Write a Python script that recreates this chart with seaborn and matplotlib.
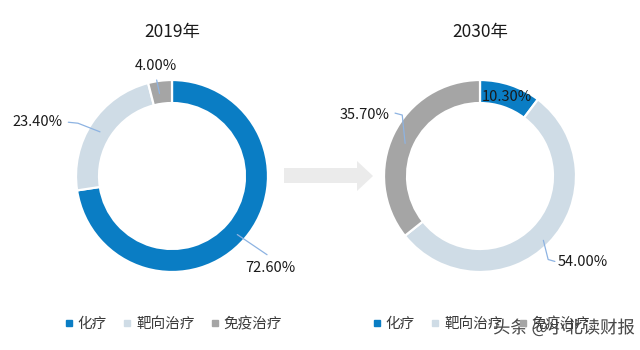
import matplotlib
matplotlib.use("Agg")
import matplotlib.pyplot as plt
from matplotlib.lines import Line2D
from matplotlib.patches import Polygon
import matplotlib.patheffects as pe
import seaborn as sns

# ---- data ----
categories = ["化疗", "靶向治疗", "免疫治疗"]
years = ["2019年", "2030年"]
share_2019 = [72.6, 23.4, 4.0]
share_2030 = [10.3, 54.0, 35.7]
watermark = "头条 @小北读财报"

sns.set_theme(style="white")
plt.rcParams["font.family"] = ["Noto Sans CJK SC", "DejaVu Sans"]

colors = ["#0A7DC4", "#CFDCE6", "#A5A5A5"]
line_c = "#8DB3E2"
txt_c = "#1A1A1A"

W, H = 640, 350
fig = plt.figure(figsize=(6.4, 3.5), dpi=100)
fig.patch.set_facecolor("white")

R = 96  # outer radius in px


def donut_ax(cx, cy):
    return fig.add_axes([(cx - R) / W, 1 - (cy + R) / H, 2 * R / W, 2 * R / H])


# label layout (in units of outer radius, relative to centre)
label_cfg = {
    0: [  # 2019
        dict(text=(1.02, -0.96), line=[(0.68, -0.61), (0.99, -0.82)]),
        dict(text=(-1.40, 0.56), line=[(-1.08, 0.56), (-0.98, 0.55), (-0.75, 0.46)]),
        dict(text=(-0.17, 1.15), line=[(-0.16, 1.0), (-0.13, 0.86)]),
    ],
    1: [  # 2030
        dict(text=(0.28, 0.82), line=None),
        dict(text=(1.07, -0.90), line=[(0.66, -0.67), (0.71, -0.87), (0.78, -0.89)]),
        dict(text=(-1.20, 0.635), line=[(-0.885, 0.655), (-0.81, 0.635), (-0.78, 0.34)]),
    ],
}

centers = [(172, 176), (480, 176)]
for i, (vals, yr) in enumerate(zip([share_2019, share_2030], years)):
    cx, cy = centers[i]
    ax = donut_ax(cx, cy)
    ax.pie(vals, colors=colors, startangle=90, counterclock=False, radius=1.0,
           wedgeprops=dict(width=0.24, edgecolor="white", linewidth=1.6))
    ax.set_xlim(-1, 1)
    ax.set_ylim(-1, 1)
    ax.set_aspect("equal")
    ax.axis("off")
    for j, v in enumerate(vals):
        cfg = label_cfg[i][j]
        if cfg["line"]:
            xs = [p[0] for p in cfg["line"]]
            ys = [p[1] for p in cfg["line"]]
            ax.plot(xs, ys, color=line_c, lw=0.9, clip_on=False)
        ax.text(cfg["text"][0], cfg["text"][1], f"{v:.2f}%", ha="center", va="center",
                fontsize=10.5, color=txt_c, clip_on=False)
    fig.text(cx / W, 1 - 32 / H, yr, ha="center", va="center", fontsize=12.5, color=txt_c)

    handles = [Line2D([0], [0], marker="s", linestyle="none", markersize=4.5,
                      markerfacecolor=c, markeredgecolor=c) for c in colors]
    fig.legend(handles, categories, loc="center", ncol=3, frameon=False,
               bbox_to_anchor=(cx / W, 1 - 324 / H), fontsize=10.5,
               handletextpad=0.1, columnspacing=0.9, handlelength=1.0,
               labelcolor="#3A3A3A", borderaxespad=0, borderpad=0)

# decorative arrow between the donuts
arrow_px = [(284, 168), (357, 168), (357, 161), (373, 176), (357, 191), (357, 183), (284, 183)]
fig.patches.append(Polygon([(x / W, 1 - y / H) for x, y in arrow_px], closed=True,
                           transform=fig.transFigure, facecolor="#EBEBEB", edgecolor="none"))

fig.text(564 / W, 1 - 328 / H, watermark, ha="center", va="center", fontsize=12.5,
         color="#2E2E2E", alpha=0.85,
         path_effects=[pe.withStroke(linewidth=2, foreground="white")])

fig.savefig("out.png", dpi=100, facecolor="white")
